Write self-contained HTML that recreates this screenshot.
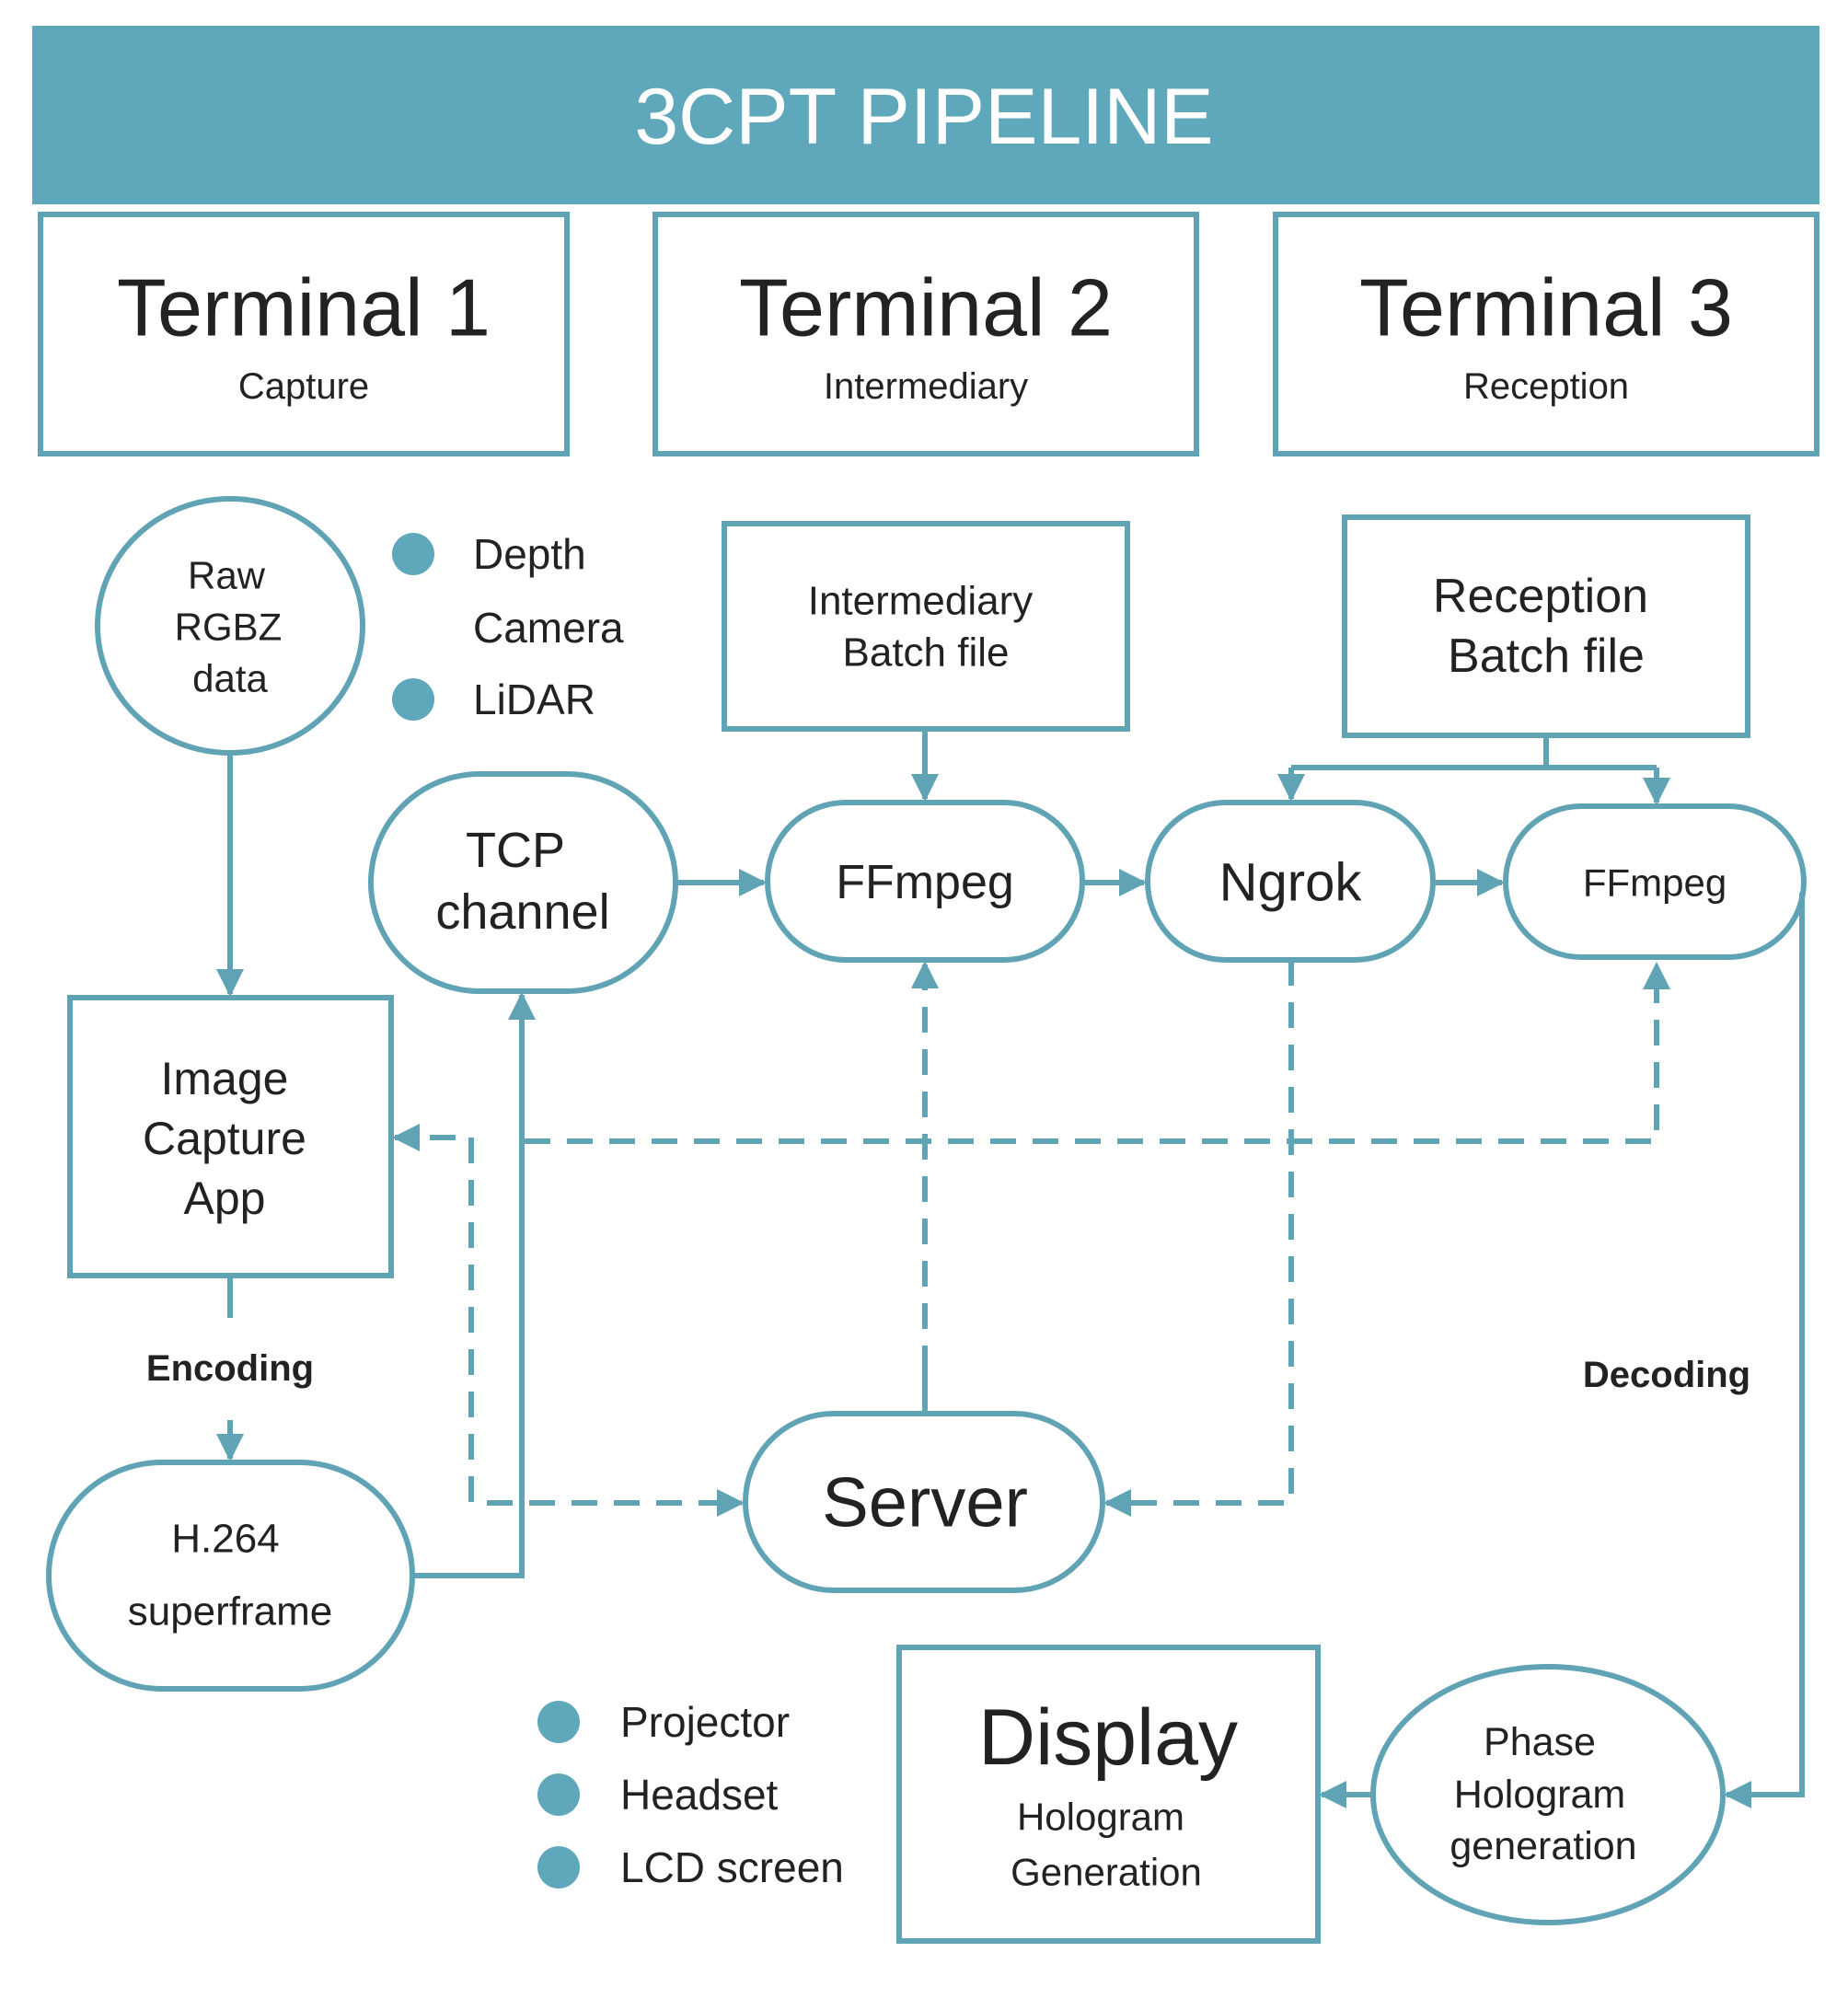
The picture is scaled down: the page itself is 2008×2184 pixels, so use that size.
<!DOCTYPE html>
<html><head><meta charset="utf-8"><style>
html,body{margin:0;padding:0;background:#fff}
svg{display:block}
text{font-family:"Liberation Sans",sans-serif;text-anchor:middle;dominant-baseline:central;fill:#222}
</style></head><body>
<svg width="2008" height="2184" viewBox="0 0 2008 2184" xmlns="http://www.w3.org/2000/svg">
<defs>
<marker id="a" viewBox="0 0 10 10" refX="9" refY="5" markerWidth="5" markerHeight="5" orient="auto-start-reverse" markerUnits="strokeWidth">
<path d="M0,0 L10,5 L0,10 z" fill="#5fa3b5"/></marker>
</defs>
<rect x="35" y="28" width="1942" height="194" fill="#5fa8bc"/>
<text x="1004" y="127" font-size="86" fill="#fff" style="fill:#fff">3CPT PIPELINE</text>
<g fill="none" stroke="#5fa3b5" stroke-width="6">
<rect x="44" y="233" width="572" height="260"/>
<rect x="712" y="233" width="588" height="260"/>
<rect x="1386" y="233" width="588" height="260"/>
<ellipse cx="250" cy="680" rx="144" ry="138"/>
<rect x="787" y="569" width="438" height="223"/>
<rect x="1461" y="562" width="438" height="237"/>
<rect x="403" y="841" width="331" height="236" rx="118"/>
<rect x="834" y="872" width="342" height="171" rx="85"/>
<rect x="1247" y="872" width="310" height="171" rx="85"/>
<rect x="1636" y="876" width="324" height="164" rx="82"/>
<rect x="76" y="1084" width="349" height="302"/>
<rect x="53" y="1589" width="395" height="246" rx="123"/>
<rect x="810" y="1536" width="388" height="192" rx="96"/>
<ellipse cx="1682" cy="1950" rx="190" ry="139"/>
<rect x="977" y="1790" width="455" height="319"/>
</g>
<g fill="none" stroke="#5fa3b5" stroke-width="6">
<path d="M734 959 H830" marker-end="url(#a)"/>
<path d="M1176 959 H1243" marker-end="url(#a)"/>
<path d="M1557 959 H1632" marker-end="url(#a)"/>
<path d="M1005 792 V868" marker-end="url(#a)"/>
<path d="M1680 799 V834"/>
<path d="M1403 834 H1800"/>
<path d="M1403 834 V868" marker-end="url(#a)"/>
<path d="M1800 834 V872" marker-end="url(#a)"/>
<path d="M250 818 V1080" marker-end="url(#a)"/>
<path d="M250 1386 V1432"/>
<path d="M250 1543 V1585" marker-end="url(#a)"/>
<path d="M448 1712 H567 V1081" marker-end="url(#a)"/>
<path d="M1958 970 V1950 H1876" marker-end="url(#a)"/>
<path d="M1490 1950 H1436" marker-end="url(#a)"/>
<path d="M1005 1536 V1490"/>
</g>
<g fill="none" stroke="#5fa3b5" stroke-width="6" stroke-dasharray="28 18">
<path d="M570 1240 H1800 V1048" marker-end="url(#a)"/>
<path d="M495 1236 H429" marker-end="url(#a)"/>
<path d="M512 1236 V1633 H806" marker-end="url(#a)"/>
<path d="M1005 1490 V1047" marker-end="url(#a)"/>
<path d="M1403 1043 V1633 H1202" marker-end="url(#a)"/>
</g>
<g fill="#5fa8bc">
<circle cx="449" cy="602" r="23"/><circle cx="449" cy="760" r="23"/>
<circle cx="607" cy="1871" r="23"/><circle cx="607" cy="1950" r="23"/><circle cx="607" cy="2029" r="23"/>
</g>
<text x="330" y="334" font-size="88">Terminal 1</text>
<text x="330" y="420" font-size="40" fill="#444">Capture</text>
<text x="1006" y="334" font-size="88">Terminal 2</text>
<text x="1006" y="420" font-size="40" fill="#444">Intermediary</text>
<text x="1680" y="334" font-size="88">Terminal 3</text>
<text x="1680" y="420" font-size="40" fill="#444">Reception</text>
<text x="246" y="625" font-size="42">Raw</text>
<text x="248" y="681" font-size="42">RGBZ</text>
<text x="250" y="737" font-size="42">data</text>
<text x="514" y="602" font-size="46" style="text-anchor:start">Depth</text>
<text x="514" y="682" font-size="46" style="text-anchor:start">Camera</text>
<text x="514" y="760" font-size="46" style="text-anchor:start">LiDAR</text>
<text x="674" y="1871" font-size="46" style="text-anchor:start">Projector</text>
<text x="674" y="1950" font-size="46" style="text-anchor:start">Headset</text>
<text x="674" y="2029" font-size="46" style="text-anchor:start">LCD screen</text>
<text x="1000" y="653" font-size="44">Intermediary</text>
<text x="1006" y="709" font-size="44">Batch file</text>
<text x="1674" y="648" font-size="52">Reception</text>
<text x="1680" y="713" font-size="52">Batch file</text>
<text x="560" y="924" font-size="54">TCP</text>
<text x="568" y="991" font-size="54">channel</text>
<text x="1005" y="959" font-size="52">FFmpeg</text>
<text x="1402" y="959" font-size="58">Ngrok</text>
<text x="1798" y="959" font-size="42">FFmpeg</text>
<text x="244" y="1172" font-size="50">Image</text>
<text x="244" y="1237" font-size="50">Capture</text>
<text x="244" y="1302" font-size="50">App</text>
<text x="250" y="1487" font-size="40" font-weight="bold">Encoding</text>
<text x="1811" y="1494" font-size="40" font-weight="bold">Decoding</text>
<text x="245" y="1672" font-size="44">H.264</text>
<text x="250" y="1751" font-size="44">superframe</text>
<text x="1005" y="1633" font-size="76">Server</text>
<text x="1204" y="1888" font-size="86">Display</text>
<text x="1196" y="1974" font-size="42" fill="#444">Hologram</text>
<text x="1202" y="2034" font-size="42" fill="#444">Generation</text>
<text x="1673" y="1893" font-size="43">Phase</text>
<text x="1673" y="1950" font-size="43">Hologram</text>
<text x="1677" y="2006" font-size="43">generation</text>
</svg>
</body></html>
